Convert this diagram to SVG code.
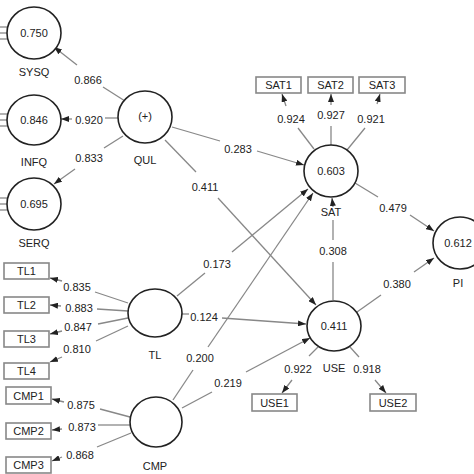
<svg xmlns="http://www.w3.org/2000/svg" width="474" height="474" viewBox="0 0 474 474">
<defs>
<marker id="ah" markerWidth="8" markerHeight="6" refX="8" refY="3" orient="auto" markerUnits="userSpaceOnUse"><path d="M0,0 L8,3 L0,6 z" fill="#222"/></marker>
<style>
.n{fill:#fff;stroke:#222;stroke-width:1.6}
.b{fill:#fff;stroke:#888;stroke-width:1.6}
.c line{stroke:#888;stroke-width:1.3}
.a{marker-end:url(#ah)}
text{font-family:"Liberation Sans",Arial,sans-serif;font-size:11px;fill:#222;text-anchor:middle}
.t{font-size:11px}
</style>
</defs>
<rect width="474" height="474" fill="#fff"/>
<g class="c" id="connectors">
<!-- cut-off indicators -->
<line x1="0" y1="27" x2="9" y2="27"/><line x1="0" y1="33" x2="7" y2="33"/><line x1="0" y1="39" x2="9" y2="39"/>
<line x1="0" y1="114" x2="9" y2="114"/><line x1="0" y1="120" x2="7" y2="120"/><line x1="0" y1="126" x2="9" y2="126"/>
<line x1="0" y1="198" x2="9" y2="198"/><line x1="0" y1="204" x2="7" y2="204"/><line x1="0" y1="210" x2="9" y2="210"/>
<!-- QUL -->
<line x1="125" y1="101" x2="103" y2="87"/><line class="a" x1="77" y1="65" x2="54" y2="47"/>
<line x1="118" y1="118" x2="105" y2="118"/><line class="a" x1="72" y1="119" x2="61" y2="119"/>
<line x1="123" y1="136" x2="104" y2="148"/><line class="a" x1="75" y1="169" x2="54" y2="184"/>
<line x1="172" y1="127" x2="220" y2="141"/><line class="a" x1="257" y1="151" x2="304" y2="165"/>
<line x1="165" y1="140" x2="196" y2="172"/><line class="a" x1="218" y1="198" x2="316" y2="305"/>
<!-- TL -->
<line x1="177" y1="296" x2="205" y2="273"/><line class="a" x1="232" y1="252" x2="308" y2="189"/>
<line x1="182" y1="314" x2="189" y2="314"/><line class="a" x1="222" y1="318" x2="306" y2="324"/>
<line x1="128" y1="303" x2="95" y2="292"/><line class="a" x1="62" y1="281" x2="50" y2="278"/>
<line x1="128" y1="311" x2="97" y2="309"/><line class="a" x1="61" y1="306" x2="50" y2="305"/>
<line x1="128" y1="318" x2="98" y2="324"/><line class="a" x1="62" y1="331" x2="50" y2="334"/>
<line x1="128" y1="326" x2="96" y2="341"/><line class="a" x1="62" y1="357" x2="50" y2="362"/>
<!-- CMP -->
<line x1="173" y1="400" x2="193" y2="370"/><line class="a" x1="208" y1="347" x2="313" y2="193"/>
<line x1="182" y1="408" x2="212" y2="392"/><line class="a" x1="246" y1="372" x2="310" y2="338"/>
<line x1="130" y1="417" x2="100" y2="409"/><line class="a" x1="64" y1="402" x2="52" y2="399"/>
<line x1="130" y1="425" x2="98" y2="425"/><line class="a" x1="62" y1="429" x2="52" y2="430"/>
<line x1="131" y1="433" x2="97" y2="447"/><line class="a" x1="62" y1="457" x2="52" y2="461"/>
<!-- USE -->
<line x1="333" y1="300" x2="333" y2="262"/><line x1="333" y1="240" x2="333" y2="220"/><line class="a" x1="333" y1="207" x2="332" y2="198"/>
<line x1="357" y1="312" x2="381" y2="295"/><line class="a" x1="414" y1="272" x2="434" y2="258"/>
<line x1="318" y1="347" x2="309" y2="356"/><line class="a" x1="292" y1="380" x2="282" y2="393"/>
<line x1="350" y1="347" x2="359" y2="357"/><line class="a" x1="375" y1="380" x2="386" y2="393"/>
<!-- SAT -->
<line x1="355" y1="183" x2="378" y2="197"/><line class="a" x1="410" y1="215" x2="434" y2="231"/>
<line x1="314" y1="149" x2="298" y2="128"/><line class="a" x1="286" y1="106" x2="282" y2="94"/>
<line x1="331" y1="145" x2="331" y2="126"/><line class="a" x1="331" y1="105" x2="331" y2="94"/>
<line x1="347" y1="150" x2="365" y2="128"/><line class="a" x1="377" y1="104" x2="380" y2="94"/>
</g>
<g id="labels">
<text x="88" y="84">0.866</text><text x="89" y="124">0.920</text><text x="89" y="162">0.833</text>
<text x="238" y="153">0.283</text><text x="205" y="191">0.411</text>
<text x="217" y="268">0.173</text><text x="204" y="321">0.124</text>
<text x="200" y="362">0.200</text><text x="228" y="387">0.219</text>
<text x="77" y="291">0.835</text><text x="79" y="312">0.883</text><text x="78" y="331">0.847</text><text x="77" y="353">0.810</text>
<text x="81" y="409">0.875</text><text x="82" y="431">0.873</text><text x="80" y="459">0.868</text>
<text x="333" y="255">0.308</text><text x="397" y="288">0.380</text><text x="393" y="212">0.479</text>
<text x="298" y="373">0.922</text><text x="367" y="373">0.918</text>
<text x="291" y="123">0.924</text><text x="331" y="119">0.927</text><text x="371" y="123">0.921</text>
</g>
<g id="SYSQ"><ellipse class="n" cx="34" cy="33" rx="27" ry="26"/><text x="34" y="37">0.750</text><text x="34" y="76">SYSQ</text></g>
<g id="INFQ"><ellipse class="n" cx="34" cy="120" rx="27" ry="25"/><text x="34" y="124">0.846</text><text x="34" y="166">INFQ</text></g>
<g id="SERQ"><ellipse class="n" cx="34" cy="204" rx="27" ry="26"/><text x="34" y="208">0.695</text><text x="34" y="247">SERQ</text></g>
<g id="QUL"><ellipse class="n" cx="145" cy="117" rx="27" ry="26"/><text x="145" y="120">(+)</text><text x="145" y="164">QUL</text></g>
<g id="SAT"><ellipse class="n" cx="331" cy="171" rx="27" ry="26"/><text x="331" y="175">0.603</text><text x="331" y="216">SAT</text></g>
<g id="USE"><ellipse class="n" cx="334" cy="326" rx="27" ry="25"/><text x="334" y="330">0.411</text><text x="334" y="372">USE</text></g>
<g id="PI"><ellipse class="n" cx="460" cy="243" rx="27" ry="26"/><text x="458" y="247">0.612</text><text x="458" y="287">PI</text></g>
<g id="TL"><ellipse class="n" cx="155" cy="313" rx="27" ry="24"/><text x="155" y="359">TL</text></g>
<g id="CMP"><ellipse class="n" cx="156" cy="422" rx="26" ry="25"/><text x="155" y="470">CMP</text></g>
<g id="SAT1"><rect class="b" x="256" y="77" width="45" height="16"/><text x="278.5" y="89">SAT1</text></g>
<g id="SAT2"><rect class="b" x="308" y="77" width="45" height="16"/><text x="330.5" y="89">SAT2</text></g>
<g id="SAT3"><rect class="b" x="359" y="77" width="46" height="16"/><text x="382" y="89">SAT3</text></g>
<g id="TL1"><rect class="b" x="4" y="263" width="45" height="16"/><text x="26.5" y="275">TL1</text></g>
<g id="TL2"><rect class="b" x="4" y="297" width="45" height="16"/><text x="26.5" y="309">TL2</text></g>
<g id="TL3"><rect class="b" x="4" y="331" width="45" height="16"/><text x="26.5" y="343">TL3</text></g>
<g id="TL4"><rect class="b" x="4" y="363" width="45" height="16"/><text x="26.5" y="375">TL4</text></g>
<g id="CMP1"><rect class="b" x="6" y="387" width="45" height="17"/><text x="28.5" y="399.5">CMP1</text></g>
<g id="CMP2"><rect class="b" x="6" y="423" width="45" height="16"/><text x="28.5" y="435">CMP2</text></g>
<g id="CMP3"><rect class="b" x="6" y="457" width="45" height="16"/><text x="28.5" y="469">CMP3</text></g>
<g id="USE1"><rect class="b" x="252" y="394" width="45" height="17"/><text x="274.5" y="406.5">USE1</text></g>
<g id="USE2"><rect class="b" x="370" y="394" width="46" height="17"/><text x="393" y="406.5">USE2</text></g>
</svg>
